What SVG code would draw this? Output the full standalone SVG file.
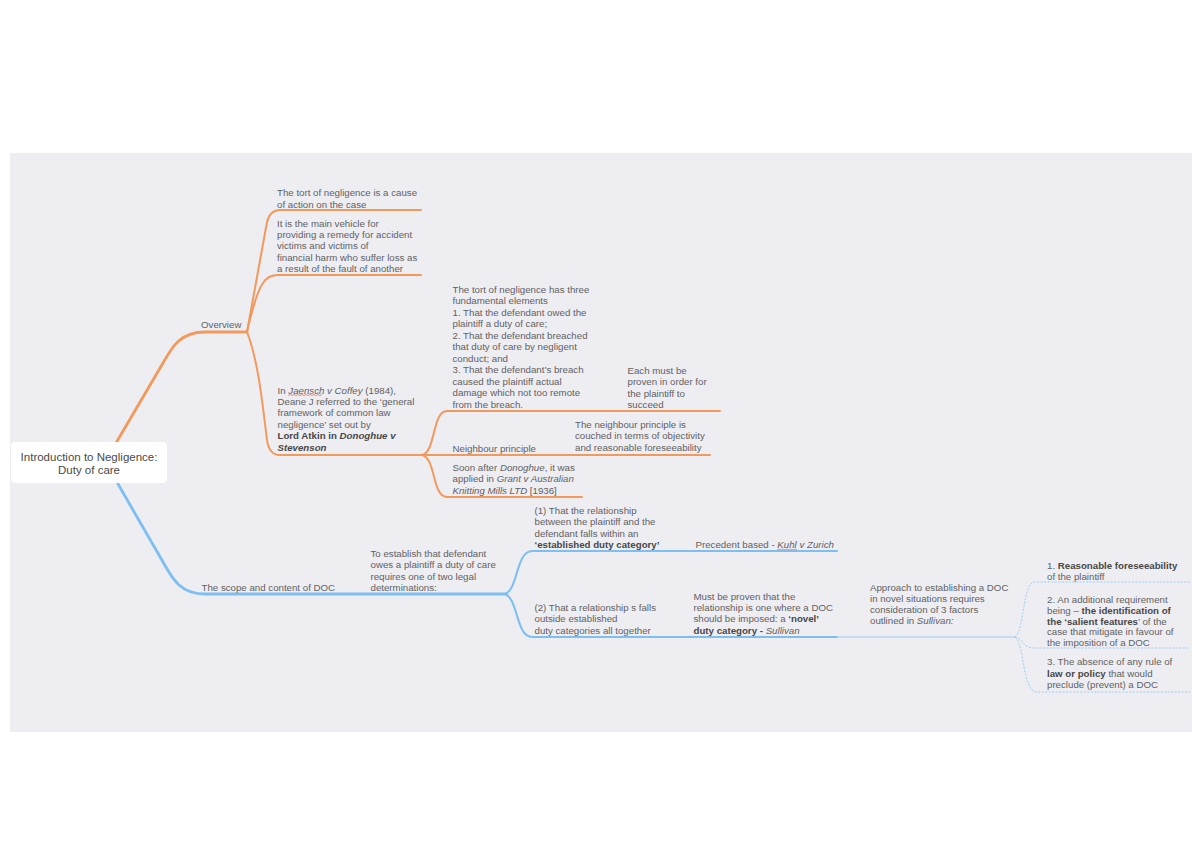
<svg xmlns="http://www.w3.org/2000/svg" width="1200" height="849" viewBox="0 0 1200 849">
<style>
.t{font-family:"Liberation Sans",Arial,sans-serif;font-size:9.7px;fill:#626262}
.r{font-family:"Liberation Sans",Arial,sans-serif;font-size:11.5px;fill:#4a4a4a}
.b{font-weight:bold;fill:#484848}
.i{font-style:italic}
.o3{fill:none;stroke:#f2995c;stroke-width:2.8;stroke-linecap:round}
.o2{fill:none;stroke:#f2995c;stroke-width:2;stroke-linecap:round}
.b3{fill:none;stroke:#7dbff2;stroke-width:2.8;stroke-linecap:round}
.b2{fill:none;stroke:#7dbff2;stroke-width:2;stroke-linecap:round}
.b1{fill:none;stroke:#9ccdf2;stroke-width:1}
.bd{fill:none;stroke:#9ccdf2;stroke-width:1;stroke-dasharray:2 1.5}
.sq{fill:none;stroke:#d9786f;stroke-width:0.8}
</style>
<rect x="0" y="0" width="1200" height="849" fill="#ffffff"/>
<rect x="10" y="153" width="1182" height="579" fill="#ededf2"/>

<g id="connectors">
  <path class="o3" d="M116,443 L163,363 C172,347 180,332 205,332 L247,332"/>
  <path class="o2" d="M247,332 L267,222 Q270,210 280,210 L421,210"/>
  <path class="o2" d="M247,332 C252,310 258,290 263,283 Q268,275 278,275 L421,275"/>
  <path class="o2" d="M247,332 C258,360 262,400 267,440 Q269,455 280,455 L422,455"/>
  <path class="o2" d="M422,455 C436,452 432,411 447,411 L597,411"/>
  <path class="o2" d="M597,411 L720,411"/>
  <path class="o2" d="M422,455 L710,455"/>
  <path class="o2" d="M422,455 C436,458 432,497 447,497 L582,497"/>
  <path class="b3" d="M118,484 L163,562 C172,578 180,594 205,594 L505,594"/>
  <path class="b2" d="M505,594 C518,590 516,551 532,551 L690,551"/>
  <path class="b2" d="M690,551 L837,551"/>
  <path class="b2" d="M505,594 C518,598 516,637 532,637 L690,637"/>
  <path class="b2" d="M690,637 L837,637"/>
  <path class="b1" d="M837,637 L1015,637"/>
  <path class="bd" d="M1015,637 C1025,630 1022,582 1035,582 L1190,582"/>
  <path class="bd" d="M1015,637 C1025,640 1022,648 1035,648 L1190,648"/>
  <path class="bd" d="M1015,637 C1025,645 1022,692 1037,692 L1190,692"/>
</g>

<g id="root">
  <rect x="11" y="442" width="156" height="41" rx="4" fill="#ffffff"/>
  <text class="r" x="89" y="460.5" text-anchor="middle">Introduction to Negligence:</text>
  <text class="r" x="89" y="474" text-anchor="middle">Duty of care</text>
</g>

<g id="overview">
  <text class="t" x="201" y="328">Overview</text>
</g>

<g id="cause-of-action">
  <text class="t" x="277" y="196"><tspan x="277">The tort of negligence is a cause</tspan><tspan x="277" dy="11.5">of action on the case</tspan></text>
</g>

<g id="main-vehicle">
  <text class="t" x="277" y="226.5"><tspan x="277">It is the main vehicle for</tspan><tspan x="277" dy="11.4">providing a remedy for accident</tspan><tspan x="277" dy="11.4">victims and victims of</tspan><tspan x="277" dy="11.4">financial harm who suffer loss as</tspan><tspan x="277" dy="11.4">a result of the fault of another</tspan></text>
</g>

<g id="jaensch">
  <text class="t" x="277.5" y="393.5"><tspan x="277.5">In <tspan class="i">Jaensch v Coffey</tspan> (1984),</tspan><tspan x="277.5" dy="11.4">Deane J referred to the ‘general</tspan><tspan x="277.5" dy="11.4">framework of common law</tspan><tspan x="277.5" dy="11.4">negligence’ set out by</tspan><tspan x="277.5" dy="11.4" class="b">Lord Atkin in <tspan class="i">Donoghue v</tspan></tspan><tspan x="277.5" dy="11.4" class="b i">Stevenson</tspan></text>
  <path class="sq" d="M288,395.5 l2,-1 2,1 2,-1 2,1 2,-1 2,1 2,-1 2,1 2,-1 2,1 2,-1 2,1 2,-1 2,1 2,-1 2,1 2,-1"/>
</g>

<g id="three-elements">
  <text class="t" x="452.5" y="292.5"><tspan x="452.5">The tort of negligence has three</tspan><tspan x="452.5" dy="11.55">fundamental elements</tspan><tspan x="452.5" dy="11.55">1. That the defendant owed the</tspan><tspan x="452.5" dy="11.55">plaintiff a duty of care;</tspan><tspan x="452.5" dy="11.55">2. That the defendant breached</tspan><tspan x="452.5" dy="11.55">that duty of care by negligent</tspan><tspan x="452.5" dy="11.55">conduct; and</tspan><tspan x="452.5" dy="11.55">3. That the defendant’s breach</tspan><tspan x="452.5" dy="11.55">caused the plaintiff actual</tspan><tspan x="452.5" dy="11.55">damage which not too remote</tspan><tspan x="452.5" dy="11.55">from the breach.</tspan></text>
</g>

<g id="each-must">
  <text class="t" x="627.5" y="373.5"><tspan x="627.5">Each must be</tspan><tspan x="627.5" dy="11.6">proven in order for</tspan><tspan x="627.5" dy="11.6">the plaintiff to</tspan><tspan x="627.5" dy="11.6">succeed</tspan></text>
</g>

<g id="neighbour">
  <text class="t" x="452.5" y="451.5">Neighbour principle</text>
</g>

<g id="neighbour-detail">
  <text class="t" x="575" y="427.5"><tspan x="575">The neighbour principle is</tspan><tspan x="575" dy="11.5">couched in terms of objectivity</tspan><tspan x="575" dy="11.5">and reasonable foreseeability</tspan></text>
</g>

<g id="grant">
  <text class="t" x="452.5" y="470.5"><tspan x="452.5">Soon after <tspan class="i">Donoghue</tspan>, it was</tspan><tspan x="452.5" dy="11.5">applied in <tspan class="i">Grant v Australian</tspan></tspan><tspan x="452.5" dy="11.5"><tspan class="i">Knitting Mills LTD</tspan> [1936]</tspan></text>
</g>

<g id="scope">
  <text class="t" x="201.5" y="590.5">The scope and content of DOC</text>
</g>

<g id="establish">
  <text class="t" x="370.5" y="556.5"><tspan x="370.5">To establish that defendant</tspan><tspan x="370.5" dy="11.5">owes a plaintiff a duty of care</tspan><tspan x="370.5" dy="11.5">requires one of two legal</tspan><tspan x="370.5" dy="11.5">determinations:</tspan></text>
</g>

<g id="established-category">
  <text class="t" x="534.5" y="513.5"><tspan x="534.5">(1) That the relationship</tspan><tspan x="534.5" dy="11.6">between the plaintiff and the</tspan><tspan x="534.5" dy="11.6">defendant falls within an</tspan><tspan x="534.5" dy="11.6" class="b">‘established duty category’</tspan></text>
</g>

<g id="precedent">
  <text class="t" x="695.5" y="547.5">Precedent based - <tspan class="i">Kuhl v Zurich</tspan></text>
  <path class="sq" d="M777,550 l2,-1 2,1 2,-1 2,1 2,-1 2,1 2,-1 2,1 2,-1 2,1"/>
</g>

<g id="outside-category">
  <text class="t" x="534.5" y="610.5"><tspan x="534.5">(2) That a relationship s falls</tspan><tspan x="534.5" dy="11.5">outside established</tspan><tspan x="534.5" dy="11.5">duty categories all together</tspan></text>
</g>

<g id="novel">
  <text class="t" x="693.5" y="599.5"><tspan x="693.5">Must be proven that the</tspan><tspan x="693.5" dy="11.4">relationship is one where a DOC</tspan><tspan x="693.5" dy="11.4">should be imposed: a <tspan class="b">‘novel’</tspan></tspan><tspan x="693.5" dy="11.4"><tspan class="b">duty category -</tspan> <tspan class="i">Sullivan</tspan></tspan></text>
</g>

<g id="approach">
  <text class="t" x="870" y="591"><tspan x="870">Approach to establishing a DOC</tspan><tspan x="870" dy="11">in novel situations requires</tspan><tspan x="870" dy="11">consideration of 3 factors</tspan><tspan x="870" dy="11">outlined in <tspan class="i">Sullivan:</tspan></tspan></text>
</g>

<g id="factor-1">
  <text class="t" x="1047" y="568.5"><tspan x="1047">1. <tspan class="b">Reasonable foreseeability</tspan></tspan><tspan x="1047" dy="11.5">of the plaintiff</tspan></text>
</g>

<g id="factor-2">
  <text class="t" x="1047" y="603"><tspan x="1047">2. An additional requirement</tspan><tspan x="1047" dy="10.8">being – <tspan class="b">the identification of</tspan></tspan><tspan x="1047" dy="10.8"><tspan class="b">the ‘salient features</tspan>’ of the</tspan><tspan x="1047" dy="10.8">case that mitigate in favour of</tspan><tspan x="1047" dy="10.8">the imposition of a DOC</tspan></text>
</g>

<g id="factor-3">
  <text class="t" x="1047" y="665"><tspan x="1047">3. The absence of any rule of</tspan><tspan x="1047" dy="11.5"><tspan class="b">law or policy</tspan> that would</tspan><tspan x="1047" dy="11.5">preclude (prevent) a DOC</tspan></text>
</g>
</svg>
